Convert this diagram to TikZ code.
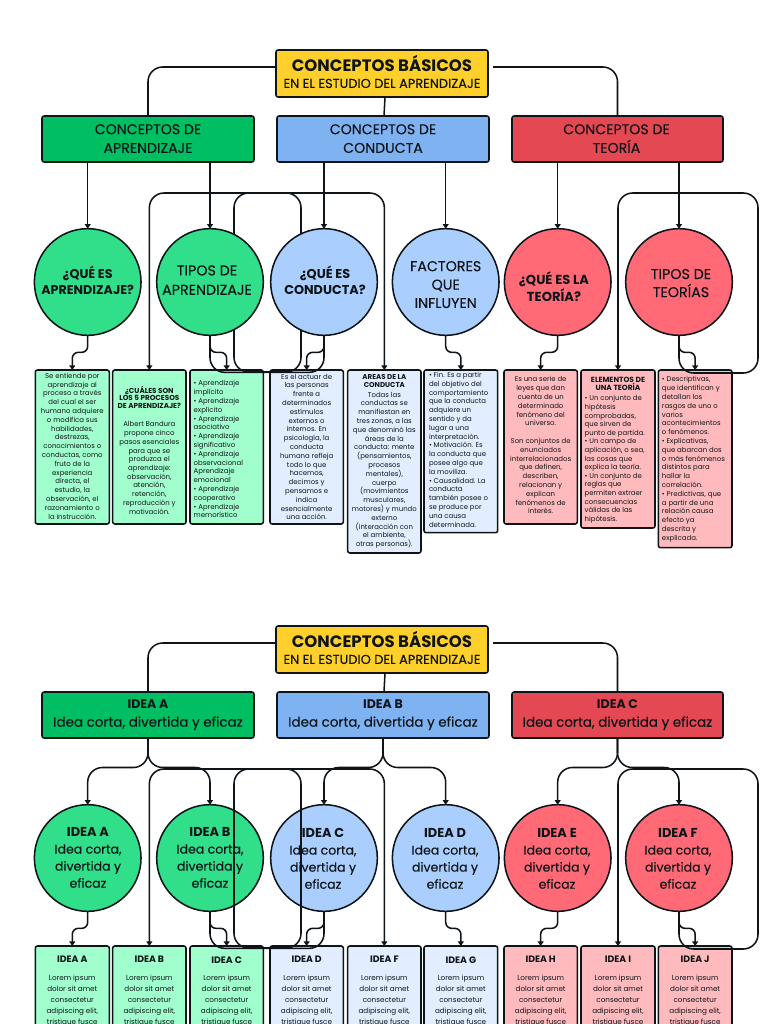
\documentclass[tikz,border=0pt]{standalone}
\usepackage{fontspec}
\setmainfont{Poppins}[UprightFeatures={FakeBold=0.12}]
\newfontfamily\smallfont{Poppins}
\usetikzlibrary{arrows.meta,calc}
\definecolor{ink}{HTML}{0E1418}
\definecolor{cTitle}{HTML}{FFD02B}
\definecolor{cGreenA}{HTML}{00BF63}
\definecolor{cBlueA}{HTML}{7FB2F0}
\definecolor{cRedA}{HTML}{E34853}
\definecolor{cGreenB}{HTML}{31DE8A}
\definecolor{cBlueB}{HTML}{AACFFF}
\definecolor{cRedB}{HTML}{FF6A76}
\definecolor{cGreenC}{HTML}{A0FFCD}
\definecolor{cBlueC}{HTML}{E2EDFF}
\definecolor{cRedC}{HTML}{FFBABD}
\pgfdeclarelayer{under}
\pgfdeclarelayer{lines}
\pgfsetlayers{under,lines,main}
\tikzset{
  card/.style={draw=ink,line width=1.15pt,rounded corners=1.6pt,inner sep=0pt,outer sep=0pt,text=ink},
  disc/.style={circle,draw=ink,line width=1.15pt,minimum size=80pt,inner sep=0pt,outer sep=0pt,text=ink},
  wire/.style={draw=ink,line width=1.15pt,rounded corners=11pt},
  onetip/.style={-{Triangle[length=3.4pt,width=4.4pt]}},
  bothtips/.style={{Triangle[length=3.4pt,width=4.4pt]}-{Triangle[length=3.4pt,width=4.4pt]}},
  sbend/.style={rounded corners=4.5pt}
}
\newcommand\fs[2]{\fontsize{#1}{#2}\selectfont}
% centred text with a pixel offset from the centre of its node
\newcommand\ct[4]{\makebox[0pt]{\hspace*{#1\dimexpr1.5pt\relax}\raisebox{\dimexpr-#2\dimexpr.75pt\relax-2.2pt\relax}[0pt][0pt]{\parbox[c]{#3pt}{\centering #4}}}}
\newcommand\bigcard[7]{\node[card,fill=#2,minimum width={(#4-#3)*0.75pt},minimum height={(#6-#5)*0.75pt}] (#1) at ({(#3+#4)/2},{(#5+#6)/2}) {#7};}
\newcommand\smallcard[8]{%
  \pgfmathsetlengthmacro\hh{(#6-#5)*0.75pt}%
  \pgfmathsetlengthmacro\ww{(#4-#3-2)*0.75pt}%
  \node[card,fill=#2,minimum width={(#4-#3)*0.75pt},minimum height={(#6-#5)*0.75pt}] (#1) at ({(#3+#4)/2},{(#5+#6)/2})
    {\parbox[c][\hh][t]{\ww}{\vspace*{#7pt}\smallfont\fs{5.2}{6.6}#8}};}
\newcommand\disc[4]{\node[disc,fill=#2] (#1) at (#3,#4) {};}
\newcommand\wires[1]{%
  \draw[wire] (#1tl) -| (#1r1.north);
  \draw[wire] (#1tr) -| (#1r3.north);
  \draw[wire] ([xshift=2.25pt]#1ttl.south) -- ([xshift=.75pt]#1r2.north);
  \draw[wire,onetip,sbend] (#1c1.south) -- ++(0,17) -| (#1b1.north);
  \draw[wire,onetip,sbend] (#1c2.south) -- ++(0,17) -| (#1b3.north);
  \draw[wire,onetip,sbend] (#1c3.south) -- ++(0,17) -| (#1b4.north);
  \draw[wire,onetip,sbend] (#1c4.south) -- ++(0,17) -| (#1b6.north);
  \draw[wire,onetip,sbend] (#1c5.south) -- ++(0,17) -| (#1b7.north);
  \draw[wire,onetip,sbend] (#1c6.south) -- ++(0,17) -| (#1b9.north);
  \draw[wire] (#1c2.south) -- ++(0,37) -| (#1c3.south);
  \draw[wire] (#1la) rectangle (#1lb);
  \draw[wire,bothtips] (#1b2.north) |- (#1lt) -| (#1b5.north);
  \draw[wire,onetip] (#1c6.south) |- (#1rr) -- (#1rt) -| (#1b8.north);
}
\newcommand\spots[1]{%
  \coordinate (#1tl) at (276,67);
  \coordinate (#1tr) at (493,67);
  \coordinate (#1la) at (234,193);
  \coordinate (#1lb) at (301,372);
  \coordinate (#1lt) at (300,193);
  \coordinate (#1rr) at (758,373);
  \coordinate (#1rt) at (758,193);
}
\newcommand\titlecard[1]{\bigcard{#1ttl}{cTitle}{276}{488}{50}{97}{\ct{0}{-1.5}{205}{\fs{12.4}{12.5}\bfseries CONCEPTOS BÁSICOS\\\fs{9.7}{12.5}\mdseries EN EL ESTUDIO DEL APRENDIZAJE}}}
\begin{document}
\begin{tikzpicture}[x=0.75pt,y=-0.75pt]
\useasboundingbox (0,0) rectangle (768,1024);
\clip (0,0) rectangle (768,1024);
\begin{pgfonlayer}{under}
\fill[white] (0,0) rectangle (768,1024);
\end{pgfonlayer}

% ---------- first map
\spots{t}
\disc{tc1}{cGreenB}{87.7}{282}
\disc{tc2}{cGreenB}{210}{282}
\disc{tc3}{cBlueB}{324}{282}
\disc{tc4}{cBlueB}{445.7}{282}
\disc{tc5}{cRedB}{557.7}{282}
\disc{tc6}{cRedB}{679}{282}
\node[text=ink] (tx1) at (87.7,281) {\ct{0}{0}{100}{\fs{9.5}{12.4}\bfseries ¿QUÉ ES\\APRENDIZAJE?}};
\node[text=ink] (tx2) at (207,280.5) {\ct{0}{0}{100}{\fs{10.7}{14.5}TIPOS DE\\APRENDIZAJE}};
\node[text=ink] (tx3) at (325,281) {\ct{0}{0}{100}{\fs{9.6}{12.2}\bfseries ¿QUÉ ES\\CONDUCTA?}};
\node[text=ink] (tx4) at (445.7,285) {\ct{0}{0}{100}{\fs{10.7}{13.8}FACTORES\\QUE\\INFLUYEN}};
\node[text=ink] (tx5) at (554,287) {\ct{0}{0}{100}{\fs{9.8}{12.4}\bfseries ¿QUÉ ES LA\\TEORÍA?}};
\node[text=ink] (tx6) at (681,283.5) {\ct{0}{0}{100}{\fs{10.7}{13.6}TIPOS DE\\TEORÍAS}};
\begin{pgfonlayer}{under}
\titlecard{t}
\bigcard{tr1}{cGreenA}{42}{254}{116}{162}{\ct{0}{0}{150}{\fs{10.6}{14}CONCEPTOS DE\\APRENDIZAJE}}
\bigcard{tr2}{cBlueA}{277}{489}{116}{162}{\ct{0}{0}{150}{\fs{10.6}{14}CONCEPTOS DE\\CONDUCTA}}
\bigcard{tr3}{cRedA}{512}{723}{116}{162}{\ct{-1}{0}{150}{\fs{10.6}{14}CONCEPTOS DE\\TEORÍA}}
\smallcard{tb1}{cGreenC}{35.3}{109.3}{370}{524}{2.3}{\centering Se entiende por\\aprendizaje al\\proceso a través\\del cual el ser\\humano adquiere\\o modifica sus\\habilidades,\\destrezas,\\conocimientos o\\conductas, como\\fruto de la\\experiencia\\directa, el\\estudio, la\\observación, el\\razonamiento o\\la instrucción.}
\smallcard{tb2}{cGreenC}{112.7}{186}{370}{524}{12}{\centering{\fs{5.4}{5.9}\bfseries ¿CUÁLES SON\\LOS 5 PROCESOS\\DE APRENDIZAJE?\\[7pt]}\fs{5.2}{6.55}Albert Bandura\\propone cinco\\pasos esenciales\\para que se\\produzca el\\aprendizaje:\\observación,\\atención,\\retención,\\reproducción y\\motivación.}
\smallcard{tb3}{cGreenC}{190}{263.3}{370}{524}{8}{\raggedright\leftskip=2pt • Aprendizaje\\implícito\\• Aprendizaje\\explícito\\• Aprendizaje\\asociativo\\• Aprendizaje\\significativo\\• Aprendizaje\\observacional\\Aprendizaje\\emocional\\• Aprendizaje\\cooperativo\\• Aprendizaje\\memorístico}
\smallcard{tb4}{cBlueC}{270}{343.3}{370}{524}{3}{\centering Es el actuar de\\las personas\\frente a\\determinados\\estímulos\\externos o\\internos. En\\psicología, la\\conducta\\humana refleja\\todo lo que\\hacemos,\\decimos y\\pensamos e\\indica\\esencialmente\\una acción.}
\smallcard{tb5}{cBlueC}{347.7}{421}{370}{553}{3.4}{\centering{\fs{5.3}{6.2}\bfseries AREAS DE LA\\CONDUCTA\\[.3pt]}\fs{5.2}{6.6}Todas las\\conductas se\\manifiestan en\\tres zonas, a las\\que denominó las\\áreas de la\\conducta: mente\\(pensamientos,\\procesos\\mentales),\\cuerpo\\(movimientos\\musculares,\\motores) y mundo\\externo\\(interacción con\\el ambiente,\\otras personas).}
\smallcard{tb6}{cBlueC}{424}{497.7}{370}{532.7}{1.6}{\raggedright\leftskip=3pt • Fin. Es a partir\\del objetivo del\\comportamiento\\que la conducta\\adquiere un\\sentido y da\\lugar a una\\interpretación.\\• Motivación. Es\\la conducta que\\posee algo que\\la moviliza.\\• Causalidad. La\\conducta\\también posee o\\se produce por\\una causa\\determinada.}
\smallcard{tb7}{cRedC}{504}{577.3}{370}{524}{5}{\centering Es una serie de\\leyes que dan\\cuenta de un\\determinado\\fenómeno del\\universo.\\[6.6pt]Son conjuntos de\\enunciados\\interrelacionados\\que definen,\\describen,\\relacionan y\\explican\\fenómenos de\\interés.}
\smallcard{tb8}{cRedC}{581}{655}{370}{528}{5.5}{\raggedright\leftskip=2pt {\centering\fs{5.6}{6.2}\bfseries ELEMENTOS DE\\UNA TEORÍA\\[1pt]}\fs{5.2}{6.45}• Un conjunto de\\hipótesis\\comprobadas,\\que sirven de\\punto de partida.\\• Un campo de\\aplicación, o sea,\\las cosas que\\explica la teoría.\\• Un conjunto de\\reglas que\\permiten extraer\\consecuencias\\válidas de las\\hipótesis.}
\smallcard{tb9}{cRedC}{658.3}{732}{370}{547.7}{5}{\raggedright\leftskip=2pt • Descriptivas,\\que identifican y\\detallan los\\rasgos de uno o\\varios\\acontecimientos\\o fenómenos.\\• Explicativas,\\que abarcan dos\\o más fenómenos\\distintos para\\hallar la\\correlación.\\• Predictivas, que\\a partir de una\\relación causa\\efecto ya\\descrita y\\explicada.}
\end{pgfonlayer}
\begin{pgfonlayer}{lines}
\wires{t}
\end{pgfonlayer}
\draw[wire,onetip] (tc1.north |- tr1.south) -- (tc1.north);
\draw[wire,onetip] (tc2.north |- tr1.south) -- (tc2.north);
\draw[wire,onetip] (tc3.north |- tr2.south) -- (tc3.north);
\draw[wire,onetip] (tc4.north |- tr2.south) -- (tc4.north);
\draw[wire,onetip] (tc5.north |- tr3.south) -- (tc5.north);
\draw[wire,onetip] (tc6.north |- tr3.south) -- (tc6.north);

% ---------- second map
\begin{scope}[yshift=-432pt]
\spots{u}
\begin{pgfonlayer}{under}
\titlecard{u}
\bigcard{ur1}{cGreenA}{42}{254}{116}{162}{\ct{0}{0.5}{190}{\fs{10.1}{13.4}{\fontsize{9.4}{13.4}\selectfont\bfseries IDEA A}\\Idea corta, divertida y eficaz}}
\bigcard{ur2}{cBlueA}{277}{489}{116}{162}{\ct{0}{0.5}{190}{\fs{10.1}{13.4}{\fontsize{9.4}{13.4}\selectfont\bfseries IDEA B}\\Idea corta, divertida y eficaz}}
\bigcard{ur3}{cRedA}{512}{723}{116}{162}{\ct{0}{0.5}{190}{\fs{10.1}{13.4}{\fontsize{9.4}{13.4}\selectfont\bfseries IDEA C}\\Idea corta, divertida y eficaz}}
\disc{uc1}{cGreenB}{87.7}{282}
\disc{uc2}{cGreenB}{210}{282}
\disc{uc3}{cBlueB}{324}{282}
\disc{uc4}{cBlueB}{445.7}{282}
\disc{uc5}{cRedB}{557.7}{282}
\disc{uc6}{cRedB}{679}{282}
\newcommand\ideatext[1]{\fs{9.4}{12.8}{\fontsize{9.7}{12.8}\selectfont\bfseries #1}\\Idea corta,\\divertida y\\eficaz}
\node[text=ink] (ux1) at (88,282) {\ct{0}{0}{100}{\ideatext{IDEA A}}};
\node[text=ink] (ux2) at (210,282) {\ct{0}{0}{100}{\ideatext{IDEA B}}};
\node[text=ink] (ux3) at (323,283) {\ct{0}{0}{100}{\ideatext{IDEA C}}};
\node[text=ink] (ux4) at (445,283) {\ct{0}{0}{100}{\ideatext{IDEA D}}};
\node[text=ink] (ux5) at (557,283) {\ct{0}{0}{100}{\ideatext{IDEA E}}};
\node[text=ink] (ux6) at (678,283) {\ct{0}{0}{100}{\ideatext{IDEA F}}};
\newcommand\loremcard[5]{\smallcard{#1}{#2}{#3}{#4}{370}{470}{7.8}{\centering{\fs{7}{8}\bfseries #5\\[4.8pt]}\fs{5.4}{8.25}Lorem ipsum\\dolor sit amet\\consectetur\\adipiscing elit,\\tristique fusce}}
\loremcard{ub1}{cGreenC}{35.3}{109.3}{IDEA A}
\loremcard{ub2}{cGreenC}{112.7}{186}{IDEA B}
\loremcard{ub3}{cGreenC}{190}{263.3}{IDEA C}
\loremcard{ub4}{cBlueC}{270}{343.3}{IDEA D}
\loremcard{ub5}{cBlueC}{347.7}{421}{IDEA F}
\loremcard{ub6}{cBlueC}{424}{497.7}{IDEA G}
\loremcard{ub7}{cRedC}{504}{577.3}{IDEA H}
\loremcard{ub8}{cRedC}{581}{655}{IDEA I}
\loremcard{ub9}{cRedC}{658.3}{732}{IDEA J}
\end{pgfonlayer}
\begin{pgfonlayer}{lines}
\wires{u}
\draw[wire,onetip] (ur1.south) -- ++(0,29.5) -| (uc1.north);
\draw[wire,onetip] (ur1.south) -- ++(0,29.5) -| (uc2.north);
\draw[wire,onetip] (ur2.south) -- ++(0,29.5) -| (uc3.north);
\draw[wire,onetip] (ur2.south) -- ++(0,29.5) -| (uc4.north);
\draw[wire,onetip] (ur3.south) -- ++(0,29.5) -| (uc5.north);
\draw[wire,onetip] (ur3.south) -- ++(0,29.5) -| (uc6.north);
\end{pgfonlayer}
\end{scope}
\end{tikzpicture}
\end{document}
